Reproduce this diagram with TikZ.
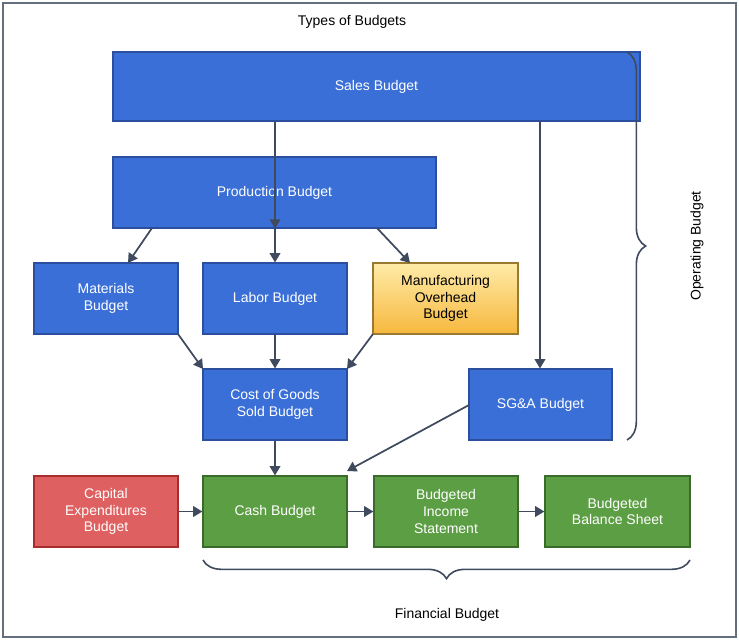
\documentclass[tikz,border=0pt]{standalone}
\usepackage{fontspec}
\setmainfont{Liberation Sans}
\usetikzlibrary{arrows.meta,decorations.pathreplacing,calc}
\definecolor{bfill}{HTML}{3A6FD8}\definecolor{bdraw}{HTML}{2B4F9E}
\definecolor{gfill}{HTML}{5C9E44}\definecolor{gdraw}{HTML}{3B6B2A}
\definecolor{rfill}{HTML}{DF6060}\definecolor{rdraw}{HTML}{A82E2E}
\definecolor{ytop}{HTML}{FFEBA8}\definecolor{ybot}{HTML}{F6B83E}\definecolor{ydraw}{HTML}{9A7A30}
\definecolor{arr}{HTML}{3F4A5E}
\tikzset{
 box/.style={draw=bdraw,fill=bfill,line width=0.9pt,text=white,align=center,font=\fontsize{10.5pt}{12.5pt}\selectfont,inner sep=0pt},
 gbox/.style={box,draw=gdraw,fill=gfill},
 rbox/.style={box,draw=rdraw,fill=rfill},
 ybox/.style={box,draw=ydraw,top color=ytop,bottom color=ybot,text=black},
 con/.style={draw=arr,line width=1.3pt,-{Triangle[length=7pt,width=8pt]}},
 brace/.style={draw=arr,line width=1.2pt,decorate,decoration={brace,amplitude=14pt}},
 lbl/.style={font=\fontsize{10.5pt}{12.5pt}\selectfont}
}
\begin{document}
\begin{tikzpicture}[x=0.75pt,y=-0.75pt]
\useasboundingbox (0,0) rectangle (739,640);
\draw[draw=arr!80,line width=1pt] (3,3) rectangle (736,637);
\node[lbl] (title) at (352,22) {Types of Budgets};
\newcommand{\bx}[5]{\node[#1,minimum width={(#4-#2)*0.75pt},minimum height={(#5-#3)*0.75pt}] at ({(#2+#4)/2},{(#3+#5)/2})}
\bx{box}{113}{52}{640}{121} (sales) {Sales Budget};
\bx{box}{113}{157}{436}{228} (prod) {Production Budget};
\bx{box}{34}{263}{178}{334} (mat) {Materials\\Budget};
\bx{box}{203}{263}{347}{334} (lab) {Labor Budget};
\bx{ybox}{373}{263}{518}{334} (mo) {Manufacturing\\Overhead\\Budget};
\bx{box}{203}{369}{347}{440} (cogs) {Cost of Goods\\Sold Budget};
\bx{box}{469}{369}{612}{440} (sga) {SG\&A Budget};
\bx{rbox}{34}{476}{178}{547} (cap) {Capital\\Expenditures\\Budget};
\bx{gbox}{203}{476}{347}{547} (cash) {Cash Budget};
\bx{gbox}{374}{476}{518}{547} (inc) {Budgeted\\Income\\Statement};
\bx{gbox}{545}{476}{690}{547} (bal) {Budgeted\\Balance Sheet};
\draw[con] (sales.south -| lab) -- (prod.south -| lab);
\draw[con] (540,121) -- (sga.north -| 540,0);
\draw[con] (152,228) -- (128,263);
\draw[con] (prod.south -| lab) -- (lab.north);
\draw[con] (377,228) -- (410,263);
\draw[con] (178,334) -- (203,369);
\draw[con] (lab.south) -- (cogs.north);
\draw[con] (373,334) -- (347,369);
\draw[con] (cogs.south) -- (cash.north);
\draw[con] (469,405) -- (347,471);
\draw[con] (cap) -- (cash);
\draw[con] (cash) -- (inc);
\draw[con] (inc) -- (bal);
\coordinate (b1) at (627,52); \coordinate (b2) at (627,440);
\draw[brace] (b1) -- (b2) node[midway,right=22pt,rotate=90,anchor=north,lbl,yshift=-2pt] (op) {};
\node[lbl,rotate=90] (oplbl) at (697,246) {Operating Budget};
\coordinate (c1) at (690,560); \coordinate (c2) at (203,560);
\draw[brace] (c1) -- (c2);
\node[lbl] (finlbl) at (447,615) {Financial Budget};
\end{tikzpicture}
\end{document}
